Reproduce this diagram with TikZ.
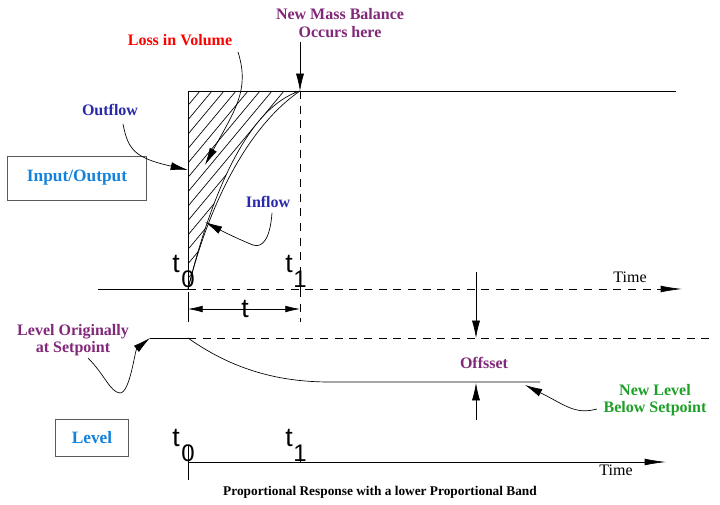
\documentclass[tikz,border=0pt]{standalone}
\usepackage{fontspec}
\setmainfont{Liberation Serif}
\setsansfont{Liberation Sans}
\usepackage{tikz}
\usetikzlibrary{arrows.meta}
\definecolor{navy}{RGB}{40,40,170}
\definecolor{plum}{RGB}{130,40,120}
\definecolor{sky}{RGB}{20,130,220}
\definecolor{leaf}{RGB}{30,160,40}
\begin{document}
\begin{tikzpicture}[
    x=0.75pt, y=-0.75pt,
    line width=0.5pt,
    lbl/.style={font=\bfseries\fontsize{12}{13}\selectfont, align=center},
    tlab/.style={font=\sffamily\fontsize{20}{20}\selectfont},
    sub/.style={font=\sffamily\fontsize{18}{18}\selectfont},
    box/.style={draw=gray!70!black, font=\bfseries\fontsize{13}{14}\selectfont, text=sky, minimum height=33pt, minimum width=104pt},
    lead/.style={-{Latex[length=13pt,width=6pt]}},
    dim/.style={{Latex[length=11pt,width=5pt]}-{Latex[length=11pt,width=5pt]}},
    axis/.style={-{Latex[length=16pt,width=5pt]}},
    dsh/.style={dash pattern=on 6pt off 5pt}
]
\useasboundingbox (0,0) rectangle (720,505);

% Input/Output graph
\begin{scope}
\clip (188,91) -- (300,91) .. controls (240,110) and (205,220) .. (188,289) -- cycle;
\foreach \k in {0,...,30} \draw (188+12*\k,91) -- (188+12*\k-200,91+240);
\end{scope}
\draw (188,289) -- (188,91) -- (676,91);
\draw (188,289) .. controls (205,220) and (240,110) .. (300,91);
\draw (188,289) .. controls (210,200) and (250,125) .. (300,91);
\draw[dsh] (300,91) -- (300,289);
\draw (98,289) -- (188,289);
\draw[dsh, axis] (188,289) -- (682,289);
\node[font=\fontsize{12}{12}\selectfont] at (630,277) {Time};
\node[tlab] at (176,264) {t};
\node[sub] at (188,279) {0};
\node[tlab] at (289,264) {t};
\node[sub] at (300,279) {1};

% time span
\draw (188,292) -- (188,322);
\draw[dsh] (300,289) -- (300,322);
\draw[dim] (188,309) -- (300,309);
\node[tlab] at (245,309) {t};

% Level graph
\draw (150,338) -- (188,338);
\draw[dsh] (188,338) -- (710,338);
\draw (188,338) .. controls (240,375) and (290,382) .. (330,382) -- (540,382);
\draw[lead] (476,272) -- (476,338);
\draw[lead] (476,420) -- (476,383);
\node[lbl, text=plum] at (484,363) {Offsset};
\draw (188,445) -- (188,480);
\draw (300,445) -- (300,462);
\draw[axis] (188,462) -- (666,462);
\node[font=\fontsize{12}{12}\selectfont] at (616,470) {Time};
\node[tlab] at (176,438) {t};
\node[sub] at (188,453) {0};
\node[tlab] at (289,438) {t};
\node[sub] at (300,453) {1};

% Boxes
\node[box] (io) at (77,178) {Input/Output};
\node[box, minimum width=55pt, minimum height=28pt] (lev) at (92,438) {Level};

% Labels
\node[lbl, text=navy] (out) at (110,110) {Outflow};
\node[lbl, text=red] (loss) at (180,40) {Loss in Volume};
\node[lbl, text=plum] (mass) at (340,23) {New Mass Balance\\Occurs here};
\node[lbl, text=navy] (inf) at (268,202) {Inflow};
\node[lbl, text=plum] (orig) at (73,340) {Level Originally\\at Setpoint};
\node[lbl, text=leaf] (new) at (655,400) {New Level\\Below Setpoint};
\node[font=\bfseries\fontsize{10}{10}\selectfont] (cap) at (380,492) {Proportional Response with a lower Proportional Band};

% Leaders
\draw[lead] (123,124) .. controls (128,150) and (135,158) .. (188,170);
\draw[lead] (238,52) .. controls (250,90) and (235,110) .. (205,165);
\draw[lead] (300,42) -- (300,91);
\draw[lead] (272,213) .. controls (270,240) and (262,248) .. (253,245) .. controls (240,240) and (220,230) .. (205,222);
\draw[lead] (88,358) .. controls (105,375) and (110,392) .. (120,393) .. controls (130,393) and (135,350) .. (150,338);
\draw[lead] (597,409) .. controls (575,415) and (565,405) .. (525,385);
\end{tikzpicture}
\end{document}
